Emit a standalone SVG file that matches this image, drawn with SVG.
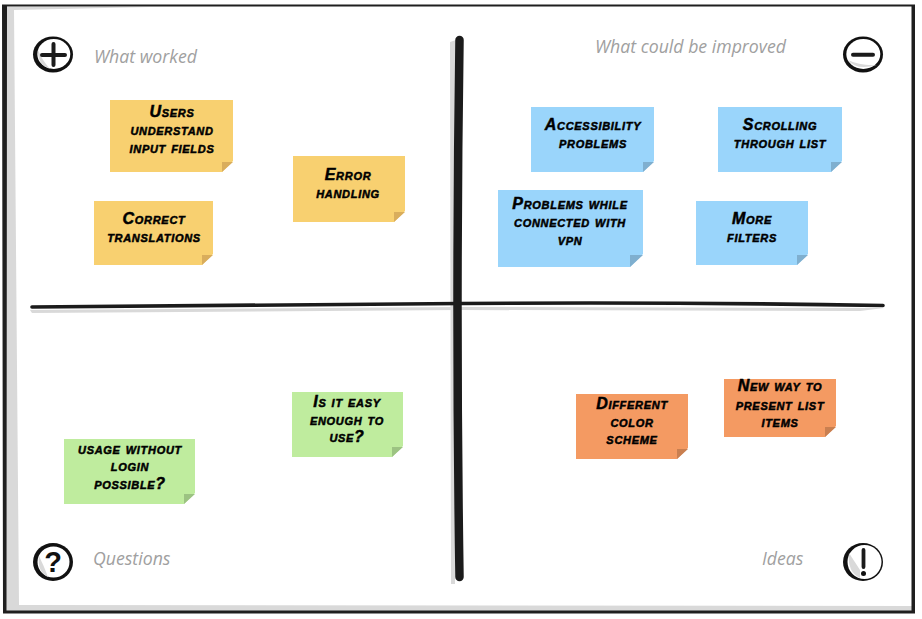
<svg xmlns="http://www.w3.org/2000/svg" width="922" height="619" viewBox="0 0 922 619">
<style>
.label{font-family:"Open Sans","Liberation Sans",sans-serif;font-style:italic;font-size:17.700px;fill:#a0a0a0}
.note text{font-family:"Liberation Sans",sans-serif;font-weight:700;font-style:italic;font-variant:small-caps;font-size:16px;fill:#000;stroke:#000;stroke-width:.5;text-anchor:middle;letter-spacing:.7px}
.y{fill:#f8d070}.yf{fill:#d9ad5c}.b{fill:#9ad5fb}.bf{fill:#7fafcf}.g{fill:#bfec9e}.gf{fill:#9cc382}.o{fill:#f49a62}.of{fill:#c97f50}
.shade{fill:#d9d9d9}
.ink{fill:none;stroke:#1b1b1b;stroke-linecap:round}
.hole{fill:#fff}
.blk{fill:#111}
.sym{font-family:"Liberation Sans",sans-serif;font-weight:700;font-size:29px;text-anchor:middle;fill:#111}
</style>
<rect width="922" height="619" fill="#fff"/>
<g id="frame">
<path class="shade" d="M6 7H150L14 10L19 605L912 606V611H6Z"/>
<path d="M2 4.500H915V613.500H3L2 4.500ZM7 6.500L6.500 610.500H911.500V6.500Z" fill="#1f1f1f" fill-rule="evenodd"/>
</g>
<g id="connectors">
<path class="shade" d="M450 42L456 40L455 584L451 584Z"/>
<path class="shade" d="M30 310L460 307L884 308L860 311L460 310L32 313Z"/>
<path class="ink" stroke-width="3.600" d="M32 307Q240 305 460 303.500T883 305.500"/>
<path class="ink" stroke-width="8.500" d="M459.500 40Q455.500 310 459.500 577"/>
</g>
<g id="icon-plus">
<ellipse class="blk" cx="53" cy="54.500" rx="20" ry="18"/>
<ellipse class="hole" cx="53.800" cy="54" rx="16.500" ry="15"/>
<path class="shade" d="M38 50Q37 64 50 69Q42 60 38 50Z"/>
<path class="ink" stroke-width="4" d="M53.500 44V65M42 55H65"/>
</g>
<g id="icon-minus">
<ellipse class="blk" cx="863" cy="54.500" rx="20" ry="18"/>
<ellipse class="hole" cx="863.300" cy="54" rx="17" ry="15"/>
<path class="shade" d="M848 60Q856 71 877 65Q860 66 848 60Z"/>
<path class="ink" stroke-width="4" d="M853 54.800H873"/>
</g>
<g id="icon-question">
<ellipse class="blk" cx="53" cy="562" rx="20" ry="19"/>
<ellipse class="hole" cx="53.500" cy="562" rx="16" ry="15.500"/>
<path class="shade" d="M39 556Q37 572 48 577Q44 566 39 556Z"/>
<text class="sym" x="53" y="572">?</text>
</g>
<g id="icon-exclamation">
<ellipse class="blk" cx="863" cy="562" rx="20" ry="19"/>
<ellipse class="hole" cx="864.500" cy="562" rx="17" ry="17"/>
<path class="shade" d="M849 553Q847 572 860 578L860 570Z"/>
<path class="ink" stroke-width="3.800" d="M863.500 550V567"/>
<circle cx="863.500" cy="573.500" r="2.500" fill="#111"/>
</g>
<g id="label-worked"><text class="label" x="94" y="63">What worked</text></g>
<g id="label-improved"><text class="label" x="595" y="53">What could be improved</text></g>
<g id="label-questions"><text class="label" x="93" y="565">Questions</text></g>
<g id="label-ideas"><text class="label" x="762" y="565">Ideas</text></g>
<g id="note-users" class="note"><path class="y" d="M110 100H233V161L222 172H110Z"/><path class="yf" d="M222 172V162H233Z"/><text x="172" y="117">Users</text><text x="172" y="135">understand</text><text x="172" y="153">input fields</text></g>
<g id="note-error" class="note"><path class="y" d="M293 156H405V211L394 222H293Z"/><path class="yf" d="M394 222V212H405Z"/><text x="348" y="180">Error</text><text x="348" y="198">handling</text></g>
<g id="note-translations" class="note"><path class="y" d="M94 201H213V254L202 265H94Z"/><path class="yf" d="M202 265V255H213Z"/><text x="154" y="224">Correct</text><text x="154" y="242">translations</text></g>
<g id="note-accessibility" class="note"><path class="b" d="M531 107H654V161L643 172H531Z"/><path class="bf" d="M643 172V162H654Z"/><text x="593" y="130">Accessibility</text><text x="593" y="148">problems</text></g>
<g id="note-scrolling" class="note"><path class="b" d="M718 107H842V161L831 172H718Z"/><path class="bf" d="M831 172V162H842Z"/><text x="780" y="130">Scrolling</text><text x="780" y="148">through list</text></g>
<g id="note-vpn" class="note"><path class="b" d="M498 190H643V254L630 267H498Z"/><path class="bf" d="M630 267V255H643Z"/><text x="570" y="209">Problems while</text><text x="570" y="227">connected with</text><text x="570" y="245">vpn</text></g>
<g id="note-filters" class="note"><path class="b" d="M696 201H808V254L797 265H696Z"/><path class="bf" d="M797 265V255H808Z"/><text x="752" y="224">More</text><text x="752" y="242">filters</text></g>
<g id="note-easy" class="note"><path class="g" d="M292 392H403V446L392 457H292Z"/><path class="gf" d="M392 457V447H403Z"/><text x="347" y="407">Is it easy</text><text x="347" y="425">enough to</text><text x="347" y="442">use?</text></g>
<g id="note-login" class="note"><path class="g" d="M64 439H195V493L184 504H64Z"/><path class="gf" d="M184 504V494H195Z"/><text x="130" y="454">usage without</text><text x="130" y="471">login</text><text x="130" y="489">possible?</text></g>
<g id="note-color" class="note"><path class="o" d="M576 394H688V448L677 459H576Z"/><path class="of" d="M677 459V449H688Z"/><text x="632" y="409">Different</text><text x="632" y="427">color</text><text x="632" y="444">scheme</text></g>
<g id="note-list" class="note"><path class="o" d="M724 379H836V426L825 437H724Z"/><path class="of" d="M825 437V427H836Z"/><text x="780" y="391">New way to</text><text x="780" y="410">present list</text><text x="780" y="427">items</text></g>
</svg>
